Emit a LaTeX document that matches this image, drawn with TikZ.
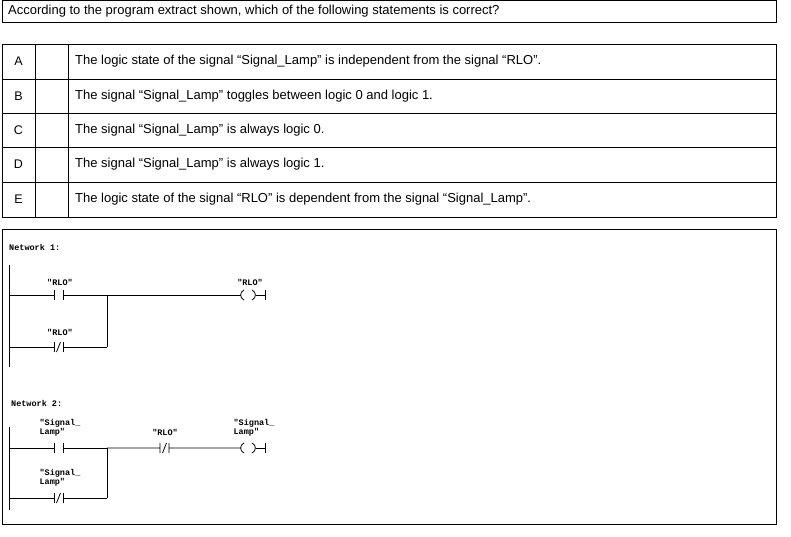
\documentclass[tikz,border=0pt]{standalone}
\usepackage{fontspec}
\setmainfont{Liberation Sans}
\newfontfamily\ladf{Liberation Mono}
\begin{document}
\begin{tikzpicture}[x=1pt,y=-1pt,
  box/.style={draw,line width=0.8pt},
  txt/.style={anchor=west,inner sep=0pt,font=\fontsize{13}{15}\selectfont},
  lab/.style={inner sep=0pt,font=\ladf\bfseries\fontsize{8.5}{9.5}\selectfont,align=left},
  wire/.style={line width=0.8pt}]
\useasboundingbox (0,0) rectangle (791,536);
\draw[box] (2,0) rectangle (776,22);
\node[txt] (q) at (8,11) {According to the program extract shown, which of the following statements is correct?};
\draw[box] (2,44) rectangle (776,217);
\foreach \y in {79,113,147,182} \draw[box] (2,\y) -- (776,\y);
\draw[box] (35,44) -- (35,217);
\draw[box] (68,44) -- (68,217);
\foreach \l/\y/\t in {A/61.5/{The logic state of the signal “Signal\_Lamp” is independent from the signal “RLO”.},
  B/96/{The signal “Signal\_Lamp” toggles between logic 0 and logic 1.},
  C/130/{The signal “Signal\_Lamp” is always logic 0.},
  D/164.5/{The signal “Signal\_Lamp” is always logic 1.},
  E/199.5/{The logic state of the signal “RLO” is dependent from the signal “Signal\_Lamp”.}}{
  \node[inner sep=0pt,font=\fontsize{12.5}{14}\selectfont] (l\l) at (18.5,\y) {\l};
  \node[txt] (t\l) at (75,\y) {\t};}
\draw[box] (2,229) rectangle (776,524);
% Network 1
\node[lab,anchor=west] (n1) at (9,247) {Network 1:};
\draw[wire] (9,265) -- (9,367);
\foreach \y in {295,347}{
  \draw[wire] (9,\y) -- (54,\y) (54,\y-5) -- (54,\y+5) (63,\y-5) -- (63,\y+5) (63,\y) -- (107,\y);}
\draw[wire] (56.5,352) -- (60.5,342);
\draw[wire] (107,295) -- (107,347);
\foreach \y in {295,448}{
  \draw[wire] (244,\y-5) .. controls (239.5,\y-3) and (239.5,\y+3) .. (244,\y+5);
  \draw[wire] (252,\y-5) .. controls (256.5,\y-3) and (256.5,\y+3) .. (252,\y+5);
  \draw[wire] (255.5,\y) -- (265,\y) (265,\y-5) -- (265,\y+5);}
\draw[wire] (107,295) -- (241,295);
\node[lab] (a1) at (60,282) {"RLO"};
\node[lab] (a2) at (60,332) {"RLO"};
\node[lab] (a3) at (250,282) {"RLO"};
% Network 2
\node[lab,anchor=west] (n2) at (11,403) {Network 2:};
\draw[wire] (9,427) -- (9,510);
\foreach \y in {448,498}{
  \draw[wire] (9,\y) -- (54,\y) (54,\y-5) -- (54,\y+5) (63,\y-5) -- (63,\y+5) (63,\y) -- (107,\y);}
\draw[wire] (56.5,503) -- (60.5,493);
\draw[wire] (107,448) -- (107,498);
\draw[wire] (107,448) -- (160,448) (160,443) -- (160,453) (169,443) -- (169,453) (162.5,453) -- (166.5,443) (169,448) -- (241,448);
\node[lab] (b1) at (60,428) {"Signal\_\\Lamp"};
\node[lab] (b2) at (60,478) {"Signal\_\\Lamp"};
\node[lab] (b3) at (165,432) {"RLO"};
\node[lab] (b4) at (254,428) {"Signal\_\\Lamp"};
\end{tikzpicture}
\end{document}
